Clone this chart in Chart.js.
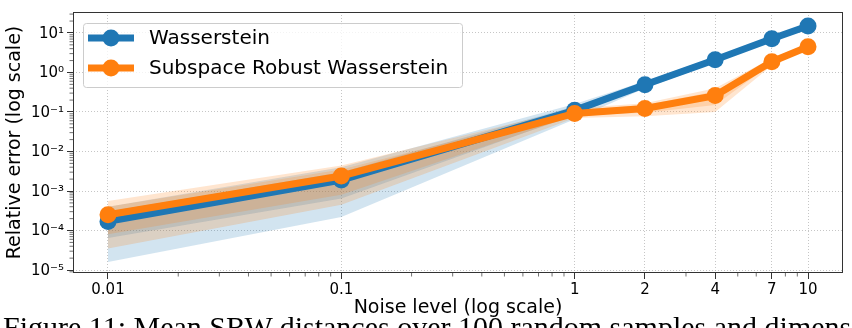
<!DOCTYPE html>
<html><head><meta charset="utf-8">
<script src="https://cdn.jsdelivr.net/npm/chart.js@4.4.1/dist/chart.umd.min.js"></script>
<style>
html,body{margin:0;padding:0;background:#fff;overflow:hidden;}
#wrap{position:relative;width:852px;height:328px;overflow:hidden;background:#fff;}
#c{position:absolute;left:0;top:0;}
#cap{position:absolute;left:3px;top:312px;font-family:"Liberation Serif",serif;font-size:30px;line-height:30px;white-space:nowrap;color:#000;}
</style></head><body>
<div id="wrap"><canvas id="c" width="852" height="328"></canvas><div id="cap">Figure 11: Mean SRW distances over 100 random samples and dimensions</div></div>
<script>
// ---- data ----
const noiseLevels = [0.01, 0.1, 1, 2, 4, 7, 10];
const xTickLabels = ['0.01', '0.1', '1', '2', '4', '7', '10'];
const yTickValues = [1e-5, 1e-4, 1e-3, 1e-2, 1e-1, 1, 10];
const yTickLabels = ['10⁻⁵', '10⁻⁴', '10⁻³', '10⁻²', '10⁻¹', '10⁰', '10¹'];
const xMinorTicks = [0.02,0.03,0.04,0.05,0.06,0.07,0.08,0.09,0.2,0.3,0.4,0.5,0.6,0.7,0.8,0.9,3,5,6,8,9];

const wassersteinMean    = [1.7e-4, 1.9e-3, 0.11, 0.49, 2.1, 7.1, 15];
const wassersteinOuterLo = [1.6e-5, 2.2e-4, 0.065, 0.40, 1.75, 6.2, 13.5];
const wassersteinOuterHi = [4.0e-4, 4.0e-3, 0.16, 0.60, 2.5, 8.0, 16.5];
const wassersteinInnerLo = [6.5e-5, 6.5e-4, 0.085, 0.44, 1.9, 6.6, 14.2];
const wassersteinInnerHi = [3.0e-4, 3.0e-3, 0.14, 0.55, 2.3, 7.6, 15.8];

const srwMean    = [2.5e-4, 2.4e-3, 0.092, 0.123, 0.26, 1.87, 4.5];
const srwOuterLo = [3.5e-5, 4.5e-4, 0.07, 0.078, 0.100, 1.5, 3.9];
const srwOuterHi = [5.6e-4, 4.4e-3, 0.125, 0.166, 0.40, 2.3, 5.3];
const srwInnerLo = [8.0e-5, 8.0e-4, 0.08, 0.095, 0.15, 1.65, 4.2];
const srwInnerHi = [4.0e-4, 3.5e-3, 0.11, 0.15, 0.33, 2.1, 5.0];

const seriesNames = ['Wasserstein', 'Subspace Robust Wasserstein'];
const BLUE = '#1f77b4', ORANGE = '#ff7f0e';
const BLUE_BAND = 'rgba(31,119,180,0.2)', ORANGE_BAND = 'rgba(255,127,14,0.2)';

const pts = arr => noiseLevels.map((x, i) => ({x: x, y: arr[i]}));
const band = (arr, fill, color, order) => ({
  data: pts(arr), borderColor: 'rgba(0,0,0,0)', borderWidth: 1, pointRadius: 0,
  pointHoverRadius: 0, fill: fill, backgroundColor: color, order: order, tension: 0
});
const FONT = 'DejaVu Sans';

const decor = {
  id: 'decor',
  afterDraw(chart) {
    const ctx = chart.ctx, a = chart.chartArea;
    const xs = chart.scales.x, ys = chart.scales.y;
    ctx.save();
    // minor ticks
    ctx.strokeStyle = '#333'; ctx.lineWidth = 0.7;
    ctx.beginPath();
    xMinorTicks.forEach(v => {
      const p = xs.getPixelForValue(v);
      ctx.moveTo(p, a.bottom); ctx.lineTo(p, a.bottom + 3.5);
    });
    for (let k = -6; k <= 1; k++) {
      for (let m = 2; m <= 9; m++) {
        const v = m * Math.pow(10, k);
        if (v < ys.min || v > ys.max) continue;
        const p = ys.getPixelForValue(v);
        ctx.moveTo(a.left - 3.5, p); ctx.lineTo(a.left, p);
      }
    }
    ctx.stroke();
    // spines
    ctx.strokeStyle = '#333'; ctx.lineWidth = 1;
    ctx.strokeRect(Math.round(a.left) + 0.5, Math.round(a.top) + 0.5, Math.round(a.right - a.left) - 1, Math.round(a.bottom - a.top) - 1);
    // legend
    const x0 = a.left + 10, y0 = a.top + 11, w = 379, h = 64;
    ctx.beginPath();
    ctx.roundRect(x0 + 0.5, y0 + 0.5, w, h, 3);
    ctx.fillStyle = 'rgba(255,255,255,0.8)'; ctx.fill();
    ctx.strokeStyle = '#cccccc'; ctx.lineWidth = 1; ctx.stroke();
    const cols = [BLUE, ORANGE];
    seriesNames.forEach((name, i) => {
      const cy = y0 + 15 + i * 30;
      ctx.strokeStyle = cols[i]; ctx.lineWidth = 7; ctx.lineCap = 'butt';
      ctx.beginPath(); ctx.moveTo(x0 + 5, cy); ctx.lineTo(x0 + 51, cy); ctx.stroke();
      ctx.fillStyle = cols[i];
      ctx.beginPath(); ctx.arc(x0 + 28, cy, 8.5, 0, Math.PI * 2); ctx.fill();
      ctx.fillStyle = '#000'; ctx.font = '20px "' + FONT + '"';
      ctx.textBaseline = 'middle'; ctx.textAlign = 'left';
      ctx.fillText(name, x0 + 66, cy + 1);
    });
    ctx.restore();
  }
};

new Chart(document.getElementById('c'), {
  type: 'line',
  data: {
    datasets: [
      band(wassersteinOuterLo, false, BLUE_BAND, 5),
      band(wassersteinOuterHi, '-1', BLUE_BAND, 5),
      band(wassersteinInnerLo, false, BLUE_BAND, 4),
      band(wassersteinInnerHi, '-1', BLUE_BAND, 4),
      band(srwOuterLo, false, ORANGE_BAND, 3),
      band(srwOuterHi, '-1', ORANGE_BAND, 3),
      band(srwInnerLo, false, ORANGE_BAND, 2),
      band(srwInnerHi, '-1', ORANGE_BAND, 2),
      {label: seriesNames[0], data: pts(wassersteinMean), borderColor: BLUE, backgroundColor: BLUE,
       borderWidth: 7, pointRadius: 8.5, pointBorderWidth: 0, pointHoverRadius: 8.5, fill: false, order: 1, tension: 0},
      {label: seriesNames[1], data: pts(srwMean), borderColor: ORANGE, backgroundColor: ORANGE,
       borderWidth: 7, pointRadius: 8.5, pointBorderWidth: 0, pointHoverRadius: 8.5, fill: false, order: 0, tension: 0}
    ]
  },
  options: {
    responsive: false, animation: false, devicePixelRatio: 1,
    layout: {padding: {left: 0, right: 9, top: 10, bottom: 0}},
    plugins: {legend: {display: false}, tooltip: {enabled: false}},
    events: [],
    scales: {
      x: {
        type: 'logarithmic', bounds: 'data',
        min: Math.pow(10, -2.15), max: Math.pow(10, 1.15),
        afterBuildTicks: s => { s.ticks = noiseLevels.map(v => ({value: v})); },
        afterFit: s => { s.height = 55; },
        ticks: {callback: (v, i) => xTickLabels[i], font: {family: FONT, size: 15}, color: '#000',
                padding: 2, maxRotation: 0, autoSkip: false},
        grid: {color: 'rgba(175,175,175,0.9)', lineWidth: 0.8, tickLength: 6, tickColor: '#333', tickWidth: 1},
        border: {display: false, dash: [1, 2]},
        title: {display: true, text: 'Noise level (log scale)', font: {family: FONT, size: 19}, color: '#000',
                padding: {top: 0, bottom: 9}}
      },
      y: {
        type: 'logarithmic', bounds: 'data',
        min: Math.pow(10, -5.075), max: Math.pow(10, 1.53),
        afterBuildTicks: s => { s.ticks = yTickValues.map(v => ({value: v})); },
        afterFit: s => { s.width = 73; },
        ticks: {callback: (v, i) => yTickLabels[i], font: {family: FONT, size: 15}, color: '#000',
                padding: 3, autoSkip: false, labelOffset: 1},
        grid: {color: 'rgba(175,175,175,0.9)', lineWidth: 0.8, tickLength: 6, tickColor: '#333', tickWidth: 1},
        border: {display: false, dash: [1, 2]},
        title: {display: true, text: 'Relative error (log scale)', font: {family: FONT, size: 19}, color: '#000',
                padding: {top: 4, bottom: 0}}
      }
    }
  },
  plugins: [decor]
});
</script>
</body></html>
